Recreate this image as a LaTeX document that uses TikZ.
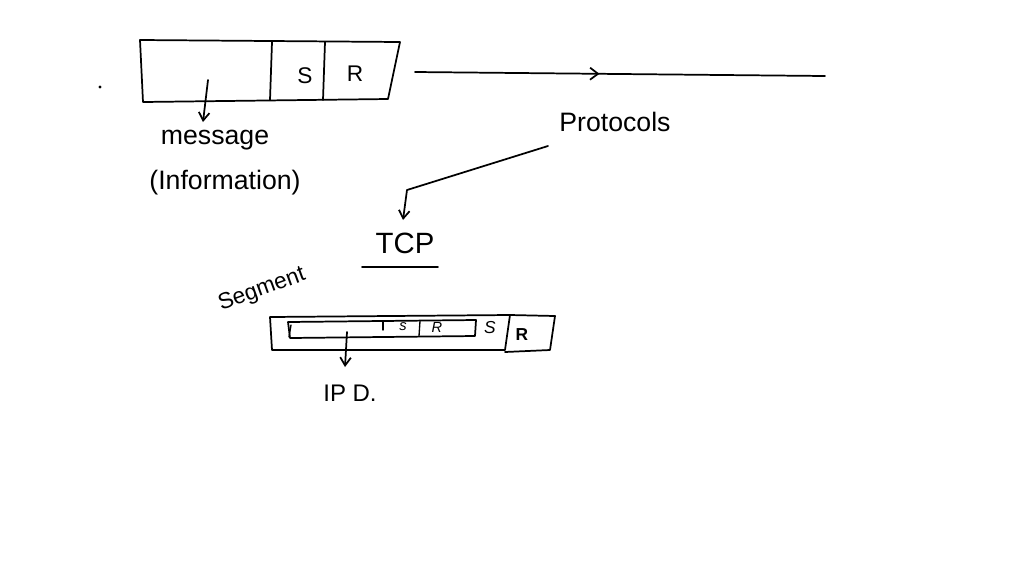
\documentclass[tikz,border=0pt]{standalone}
\usepackage{fontspec}
\setmainfont{Liberation Sans}
\usetikzlibrary{arrows.meta,decorations.markings}
\begin{document}
\begin{tikzpicture}[x=0.75pt,y=-0.75pt,
  pen/.style={line width=1.3pt,black,line cap=round,line join=round},
  arr/.style={pen,-{Straight Barb[length=6pt,width=8pt]}},
  lbl/.style={font=\fontsize{20}{22}\selectfont,inner sep=0pt},
  small/.style={font=\fontsize{11}{12}\selectfont\itshape,inner sep=0pt}]
\useasboundingbox[fill=white] (0,0) rectangle (1024,576);
% top message box
\draw[pen] (140,40) -- (143,102) -- (388,99) -- (400,42) -- cycle;
\draw[pen] (272,42) -- (270,100);
\draw[pen] (325,42) -- (323,100);
\node[lbl,font=\fontsize{17}{18}\selectfont] (s1) at (305,76) {S};
\node[lbl,font=\fontsize{17}{18}\selectfont] (r1) at (355,74) {R};
\fill (100,87) circle (1.2pt);
% long line with arrow mark
\coordinate (l0) at (415,72);
\coordinate (l1) at (825,76);
\draw[pen,postaction={decorate},decoration={markings,mark=at position 0.45 with {\arrow{Straight Barb[length=6pt,width=9pt]}}}] (l0) -- (l1);
% message
\coordinate (m0) at (208,80);
\node[lbl] (msg) at (215,140) {message};
\node[lbl] (info) at (225,183) {(Information)};
\draw[arr] (m0) -- (203,122);
% protocols
\node[lbl] (prot) at (615,122) {Protocols};
\node[lbl,font=\fontsize{22}{24}\selectfont] (tcp) at (405,243) {TCP};
\draw[arr] (548,146) -- (407,190) -- (403,220);
\draw[pen] (362,267) -- (438,267);
% segment
\node[lbl,rotate=20,font=\fontsize{17}{18}\selectfont] (seg) at (262,290) {Segment};
\draw[pen] (270,317) -- (272,350) -- (505,350) -- (510,315) -- cycle;
\draw[pen] (510,315) -- (555,316) -- (550,350) -- (505,352);
\draw[pen] (288,322) -- (290,338) -- (475,336) -- (476,320) -- cycle;
\draw[pen,line width=1pt] (383,321) -- (383,330);
\draw[pen,line width=1pt] (420,321) -- (419,336);
\draw[pen,line width=1pt] (291,325) -- (289,337);
\node[small] (s2) at (403,327) {s};
\node[small] (r2) at (437,327) {R};
\node[small,font=\fontsize{13}{14}\selectfont\itshape] (s3) at (490,328) {S};
\node[small,font=\fontsize{13}{14}\selectfont\bfseries] (r3) at (522,335) {R};
\coordinate (ip0) at (347,332);
\node[lbl,font=\fontsize{18}{20}\selectfont] (ip) at (350,393) {IP D.};
\draw[arr] (ip0) -- (345,367);
\end{tikzpicture}
\end{document}
